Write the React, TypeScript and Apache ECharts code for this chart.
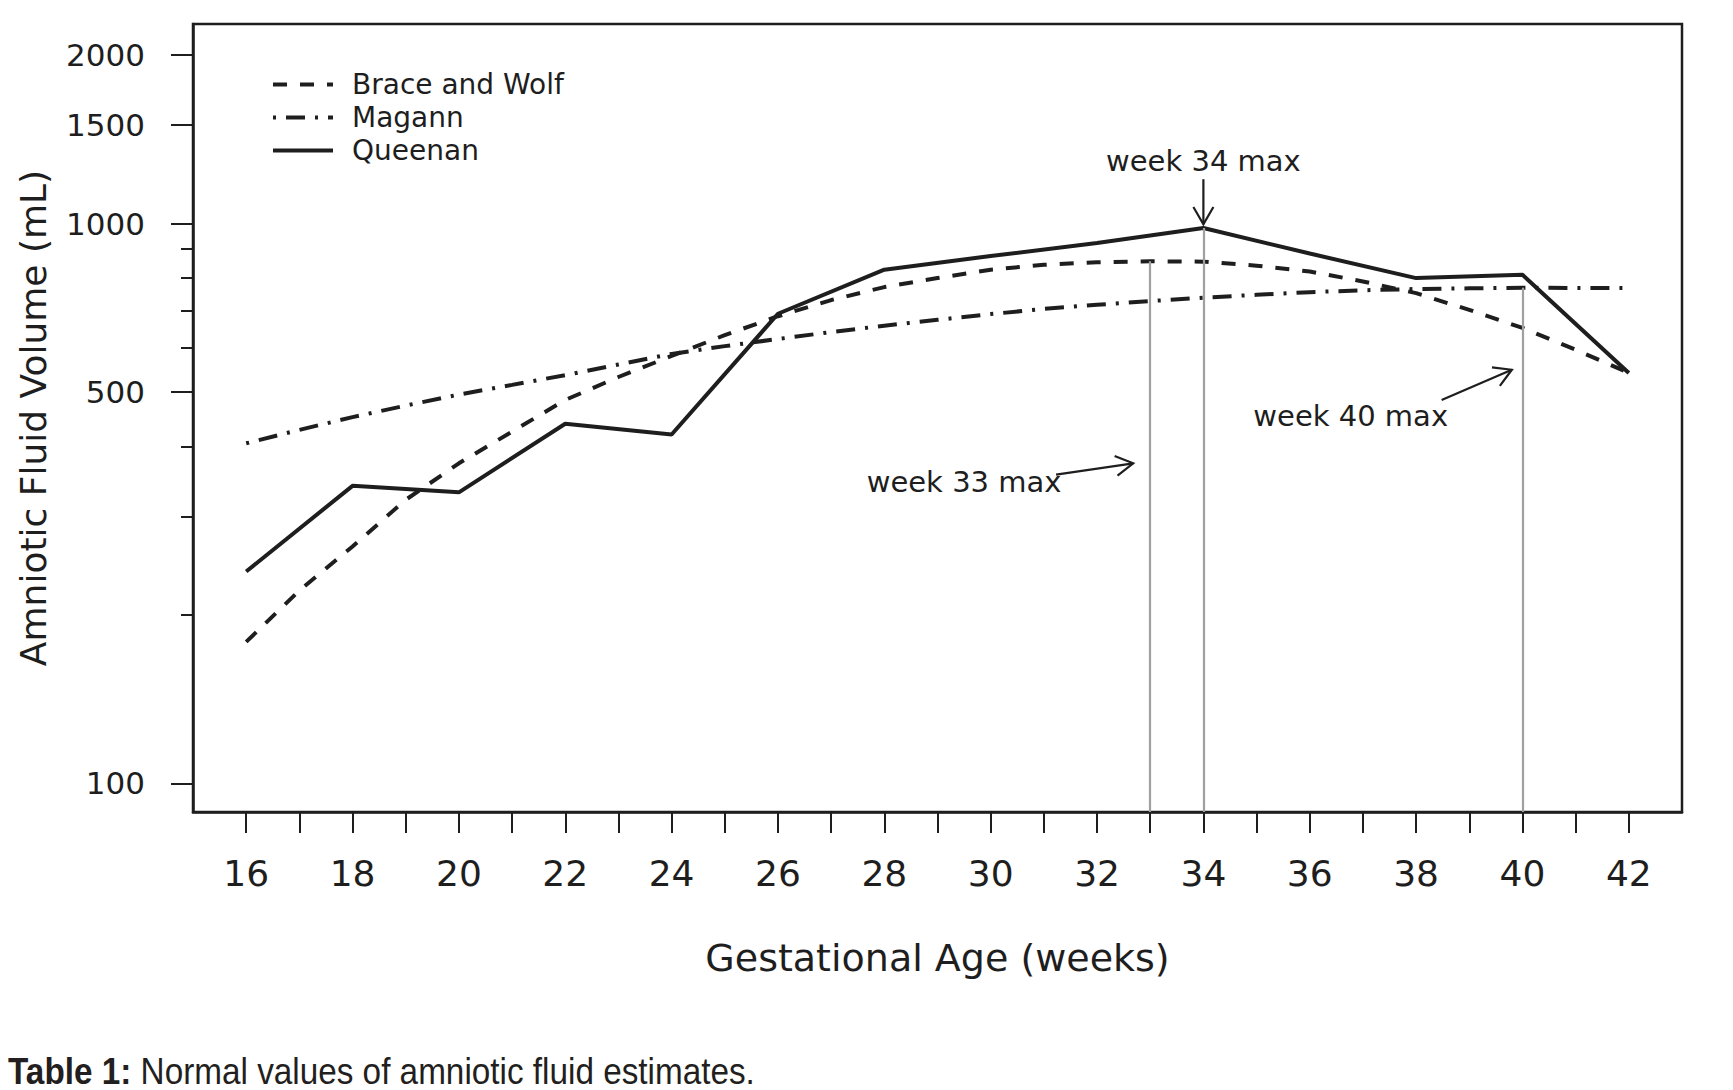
import React, { useEffect, useRef } from 'react';
import * as echarts from 'echarts';

// ---------- data ----------
const weeks = [16, 17, 18, 19, 20, 21, 22, 23, 24, 25, 26, 27, 28, 29, 30, 31, 32, 33, 34, 35, 36, 37, 38, 39, 40, 41, 42];
const braceWolf = [179, 221, 265, 321, 373, 425, 484, 532, 580, 632, 683, 730, 770, 799, 827, 844, 853, 856, 855, 841, 821, 788, 751, 701, 651, 595, 541];
const magann = [405, 428, 451, 473, 495, 515, 536, 560, 585, 604, 622, 640, 657, 673, 689, 704, 716, 727, 737, 746, 754, 760, 764, 766, 768, 767, 767];
const queenanWeeks = [16, 18, 20, 22, 24, 26, 28, 30, 32, 34, 36, 38, 40, 42];
const queenan = [239, 340, 331, 439, 420, 690, 827, 875, 923, 982, 884, 799, 810, 541];

const seriesNames = ['Brace and Wolf', 'Magann', 'Queenan'];
const xTickValues = weeks;
const xLabelValues = [16, 18, 20, 22, 24, 26, 28, 30, 32, 34, 36, 38, 40, 42];
const yMajorTicks = [100, 500, 1000, 1500, 2000];
const yMinorTicks = [200, 300, 400, 600, 700, 800, 900];

const maxWeekBrace = 33;
const maxWeekQueenan = 34;
const maxWeekMagann = 40;

const annotationTexts = ['week 34 max', 'week 33 max', 'week 40 max'];
const annotationTextAt = [[34, 1293], [29.5, 346], [36.77, 454]];
const annotationFrom = [[34, 1200], [31.23, 356], [38.48, 484]];
const annotationTo = [[34, 997], [32.68, 373], [39.8, 548]];

const xAxisTitle = 'Gestational Age (weeks)';
const yAxisTitle = 'Amniotic Fluid Volume (mL)';
const captionBold = 'Table 1:';
const captionText = ' Normal values of amniotic fluid estimates.';

// ---------- styling ----------
const X_MIN = 15;
const X_MAX = 43;
const Y_MIN = 88.9;
const Y_MAX = 2272;
const FONT = '"DejaVu Sans", sans-serif';
const INK = '#1e1e1e';

function valueAt(ws: number[], vs: number[], w: number) {
  return vs[ws.indexOf(w)];
}

function maxLine(w: number, v: number) {
  return {
    silent: true,
    symbol: ['none', 'none'],
    label: { show: false },
    emphasis: { disabled: true },
    lineStyle: { color: '#a0a0a0', width: 2.2, type: 'solid' },
    data: [[{ coord: [w, Y_MIN] }, { coord: [w, v] }]],
  };
}

function arrowHead(from: number[], to: number[], len: number, ang: number) {
  const dx = to[0] - from[0];
  const dy = to[1] - from[1];
  const l = Math.hypot(dx, dy) || 1;
  const ux = dx / l;
  const uy = dy / l;
  const rot = (a: number) => [
    to[0] - len * (ux * Math.cos(a) - uy * Math.sin(a)),
    to[1] - len * (ux * Math.sin(a) + uy * Math.cos(a)),
  ];
  return [rot(ang), [to[0], to[1]], rot(-ang)];
}

function buildOption() {
  const lineSeries = (name: string, data: number[][], dash: any, mark: any) => ({
    type: 'line',
    name,
    data,
    symbol: 'none',
    showSymbol: false,
    clip: false,
    z: 3,
    itemStyle: { color: INK },
    lineStyle: { color: INK, width: 4, type: dash },
    emphasis: { disabled: true },
    markLine: mark,
  });

  return {
    animation: false,
    color: [INK, INK, INK],
    backgroundColor: '#ffffff',
    textStyle: { fontFamily: FONT },
    grid: {
      left: 193,
      right: 51,
      top: 24,
      bottom: 278,
      show: true,
      borderColor: INK,
      borderWidth: 2.5,
      backgroundColor: 'transparent',
    },
    legend: {
      data: seriesNames,
      orient: 'vertical',
      left: 271,
      top: 68,
      padding: 0,
      itemGap: 0,
      itemWidth: 60,
      itemHeight: 14,
      selectedMode: false,
      itemStyle: { opacity: 0, borderWidth: 0 },
      lineStyle: { width: 4 },
      textStyle: {
        fontSize: 28,
        fontFamily: FONT,
        color: INK,
        lineHeight: 33,
        padding: [0, 0, 0, 14],
      },
    },
    xAxis: {
      type: 'value',
      min: X_MIN,
      max: X_MAX,
      axisLine: { show: true, lineStyle: { color: INK, width: 2.5 } },
      axisTick: { show: true, customValues: xTickValues, length: 21, lineStyle: { color: INK, width: 2 } },
      axisLabel: {
        customValues: xLabelValues,
        margin: 43,
        fontSize: 36,
        fontFamily: FONT,
        color: INK,
      },
      splitLine: { show: false },
      name: xAxisTitle,
      nameLocation: 'middle',
      nameGap: 127,
      nameTextStyle: { fontSize: 38, fontFamily: FONT, color: INK },
    },
    yAxis: [
      {
        type: 'log',
        logBase: 10,
        min: Y_MIN,
        max: Y_MAX,
        position: 'left',
        axisLine: { show: true, lineStyle: { color: INK, width: 2.5 } },
        axisTick: { show: true, customValues: yMajorTicks, length: 22, lineStyle: { color: INK, width: 2 } },
        axisLabel: {
          customValues: yMajorTicks,
          margin: 48,
          fontSize: 31,
          fontFamily: FONT,
          color: INK,
          formatter: (v: number) => String(Math.round(v)),
        },
        splitLine: { show: false },
        name: yAxisTitle,
        nameLocation: 'middle',
        nameRotate: 90,
        nameGap: 142,
        nameTextStyle: { fontSize: 36, fontFamily: FONT, color: INK },
      },
      {
        type: 'log',
        logBase: 10,
        min: Y_MIN,
        max: Y_MAX,
        position: 'left',
        axisLine: { show: false },
        axisTick: { show: true, customValues: yMinorTicks, length: 12, lineStyle: { color: INK, width: 2 } },
        axisLabel: { show: false },
        splitLine: { show: false },
      },
    ],
    series: [
      lineSeries(
        seriesNames[0],
        weeks.map((w, i) => [w, braceWolf[i]]),
        [14, 13],
        maxLine(maxWeekBrace, valueAt(weeks, braceWolf, maxWeekBrace))
      ),
      lineSeries(
        seriesNames[1],
        weeks.map((w, i) => [w, magann[i]]),
        [3, 10, 19, 10],
        maxLine(maxWeekMagann, valueAt(weeks, magann, maxWeekMagann))
      ),
      lineSeries(
        seriesNames[2],
        queenanWeeks.map((w, i) => [w, queenan[i]]),
        'solid',
        maxLine(maxWeekQueenan, valueAt(queenanWeeks, queenan, maxWeekQueenan))
      ),
      {
        type: 'custom',
        name: 'annotations',
        coordinateSystem: 'cartesian2d',
        silent: true,
        clip: false,
        z: 5,
        encode: { x: 0, y: 1 },
        data: annotationTextAt.map((p) => [p[0], p[1]]),
        renderItem: (params: any, api: any) => {
          const i = params.dataIndex;
          const t = api.coord(annotationTextAt[i]);
          const f = api.coord(annotationFrom[i]);
          const to = api.coord(annotationTo[i]);
          return {
            type: 'group',
            children: [
              {
                type: 'text',
                style: {
                  text: annotationTexts[i],
                  x: t[0],
                  y: t[1],
                  fill: INK,
                  fontSize: 29,
                  fontFamily: FONT,
                  align: 'center',
                  verticalAlign: 'middle',
                },
              },
              {
                type: 'line',
                shape: { x1: f[0], y1: f[1], x2: to[0], y2: to[1] },
                style: { stroke: INK, lineWidth: 2.2 },
              },
              {
                type: 'polyline',
                shape: { points: arrowHead(f, to, 20, Math.PI / 6) },
                style: { stroke: INK, lineWidth: 2.2, fill: null },
              },
            ],
          };
        },
      },
    ],
    graphic: [
      {
        type: 'text',
        x: 8,
        y: 1071,
        scaleX: 0.9,
        style: {
          text: '{b|' + captionBold + '}' + captionText,
          fill: '#231f20',
          fontSize: 37,
          fontFamily: '"Liberation Sans", Arial, sans-serif',
          verticalAlign: 'middle',
          rich: {
            b: {
              fontWeight: 'bold',
              fontSize: 37,
              fontFamily: '"Liberation Sans", Arial, sans-serif',
              fill: '#231f20',
            },
          },
        },
      },
    ],
  };
}

export default function App() {
  const ref = useRef<HTMLDivElement>(null);
  useEffect(() => {
    document.body.style.margin = '0';
    document.body.style.overflow = 'hidden';
    const chart = echarts.init(ref.current as HTMLDivElement, null, { renderer: 'svg' });
    chart.setOption(buildOption() as any);
    return () => {
      chart.dispose();
    };
  }, []);
  return <div ref={ref} style={{ width: 1733, height: 1090, background: '#fff' }} />;
}
